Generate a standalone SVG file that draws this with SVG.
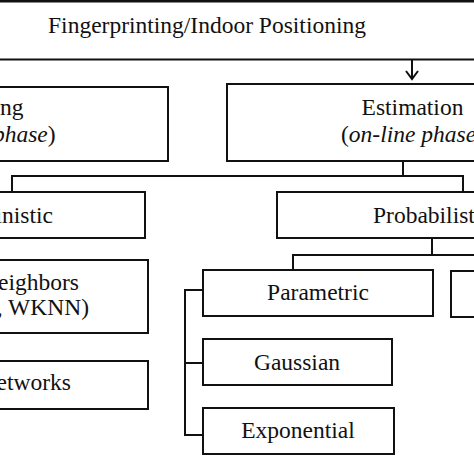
<svg xmlns="http://www.w3.org/2000/svg" width="474" height="474" viewBox="0 0 474 474">
<style>
.box{fill:#fff;stroke:#111;stroke-width:2}
.ln{fill:none;stroke:#111;stroke-width:2}
text{font-family:"Liberation Serif","Times New Roman",serif;font-size:23.5px;fill:#111}
.it{font-style:italic}
</style>
<rect width="474" height="474" fill="#fff"/>
<g id="title">
<line x1="0" y1="1" x2="474" y2="1" stroke="#111" stroke-width="3"/>
<line x1="0" y1="59.5" x2="474" y2="59.5" class="ln"/>
<text x="207" y="33" text-anchor="middle">Fingerprinting/Indoor Positioning</text>
</g>
<g id="connectors">
<line class="ln" x1="412" y1="60" x2="412" y2="79"/>
<polyline class="ln" points="406,71 412,79 418,71"/>
<polyline class="ln" points="403,161 403,176"/>
<polyline class="ln" points="12,192 12,176 463,176 463,192"/>
<polyline class="ln" points="432,238 432,255"/>
<polyline class="ln" points="293,270 293,255 480,255"/>
<polyline class="ln" points="203,290 185,290 185,435 203,435"/>
<line class="ln" x1="185" y1="363" x2="203" y2="363"/>
</g>
<g id="training">
<rect class="box" x="-20" y="87" width="188" height="74"/>
<text x="-16.5" y="115" text-anchor="middle">Training</text>
<text x="-16.5" y="142" text-anchor="middle">(<tspan class="it">off-line phase</tspan>)</text>
</g>
<g id="estimation">
<rect class="box" x="227" y="84" width="280" height="77"/>
<text x="412.5" y="115" text-anchor="middle">Estimation</text>
<text x="412.5" y="142" text-anchor="middle">(<tspan class="it">on-line phase</tspan>)</text>
</g>
<g id="deterministic">
<rect class="box" x="-20" y="192" width="165" height="46"/>
<text x="53" y="223" text-anchor="end">Deterministic</text>
</g>
<g id="probabilistic">
<rect class="box" x="277" y="192" width="230" height="46"/>
<text x="373" y="223">Probabilistic</text>
</g>
<g id="knn">
<rect class="box" x="-20" y="260" width="168" height="73"/>
<text x="79" y="290" text-anchor="end">K-Nearest Neighbors</text>
<text x="89" y="315" text-anchor="end">(KNN, WKNN)</text>
</g>
<g id="networks">
<rect class="box" x="-20" y="361" width="168" height="48"/>
<text x="71" y="390" text-anchor="end">Neural Networks</text>
</g>
<g id="parametric">
<rect class="box" x="203" y="270" width="230" height="46"/>
<text x="318" y="300" text-anchor="middle">Parametric</text>
</g>
<g id="nonparametric">
<rect class="box" x="451" y="271" width="60" height="46"/>
</g>
<g id="gaussian">
<rect class="box" x="203" y="339" width="189" height="46"/>
<text x="297" y="370" text-anchor="middle">Gaussian</text>
</g>
<g id="exponential">
<rect class="box" x="203" y="408" width="191" height="46"/>
<text x="298" y="438" text-anchor="middle">Exponential</text>
</g>
</svg>
